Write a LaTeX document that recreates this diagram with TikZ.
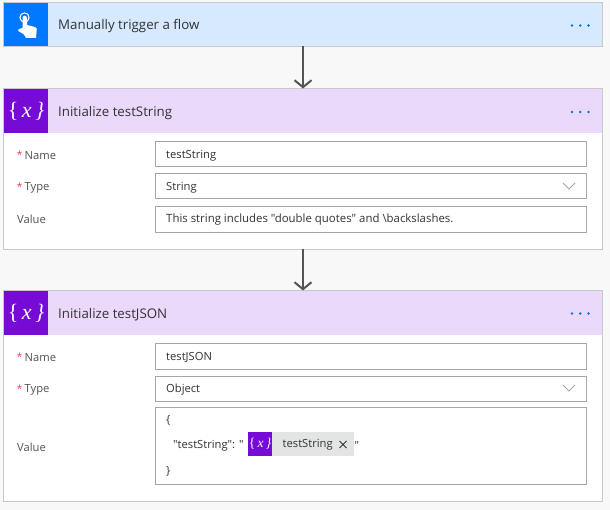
\documentclass[tikz,border=0pt]{standalone}
\usepackage{fontspec}
\setmainfont{Open Sans}[Ligatures=TeXOff]
\newfontfamily\vfont{Liberation Serif}
\usetikzlibrary{arrows.meta}
\definecolor{pagebg}{HTML}{F8F8F8}
\definecolor{cardline}{HTML}{C8C8C8}
\definecolor{fieldline}{HTML}{A6A6A6}
\definecolor{triggerbg}{HTML}{D6E9FE}
\definecolor{triggericon}{HTML}{0078FF}
\definecolor{varbg}{HTML}{EAD9FB}
\definecolor{varicon}{HTML}{770BD6}
\definecolor{txt}{HTML}{333333}
\definecolor{star}{HTML}{E0404A}
\definecolor{dotc}{HTML}{0078D7}
\definecolor{chipbg}{HTML}{E3E5E5}
\tikzset{
  x=1pt,y=-1pt,
  card/.style={draw=cardline,line width=1pt,fill=white,minimum width=599pt,anchor=north west,inner sep=0pt,outer sep=0pt},
  headtext/.style={anchor=west,text=txt,font=\fontsize{13.3}{15}\selectfont,inner sep=0pt,yshift=-1.5pt},
  label/.style={anchor=west,text=txt!85,font=\fontsize{11.2}{13}\selectfont,inner sep=0pt,yshift=-0.5pt},
  field/.style={draw=fieldline,line width=1pt,fill=white,anchor=north west,minimum width=431pt,inner sep=0pt,outer sep=0pt},
  value/.style={anchor=west,text=txt,font=\fontsize{11.2}{13}\selectfont,inner sep=0pt,yshift=-0.5pt},
  flow/.style={draw=black!67,line width=2pt,-{Straight Barb[length=7pt,width=17pt,line width=2pt]}},
  vicon/.style={text=white,inner sep=0pt,anchor=center},
  starmark/.style={anchor=east,inner sep=0pt,text=star,font=\fontsize{10}{12}\selectfont},
}
\newcommand{\threedots}[1]{\foreach \dx in {572,580.3,588.5}{\fill[dotc] (\dx,#1) circle (1.4pt);}}
\begin{document}
\begin{tikzpicture}
\useasboundingbox (0,0) rectangle (610,510);
\fill[pagebg] (0,0) rectangle (610,510);
% cards
\node[card,minimum height=44pt] (c1) at (3.5,2.5) {};
\node[card,minimum height=161pt] (c2) at (3.5,88.5) {};
\node[card,minimum height=211pt] (c3) at (3.5,290.5) {};
% headers
\fill[triggerbg] (4,3) rectangle (602,46.5);
\fill[triggericon] (4,3) rectangle (48,46.5);
\fill[varbg] (4,89) rectangle (602,133);
\fill[varicon] (4,89) rectangle (48,133);
\fill[varbg] (4,291) rectangle (602,335);
\fill[varicon] (4,291) rectangle (48,335);
\draw[cardline,line width=1pt] (3.5,2.5) rectangle (602.5,46.5);
\draw[cardline,line width=1pt] (3.5,88.5) rectangle (602.5,249.5);
\draw[cardline,line width=1pt] (3.5,290.5) rectangle (602.5,501.5);
% hand icon
\draw[white,line width=1pt] (24.5,17.5) circle (4.6pt);
\fill[white] (22.5,18) -- (22.5,28) -- (19,29) .. controls (17.5,29.5) and (17.5,31) .. (19,31.5)
  -- (24,34.5) -- (26,38) -- (36,38) -- (36.8,29) .. controls (36.8,27.5) and (35,27) .. (33,26.5)
  -- (27,25) -- (27,18) .. controls (27,15) and (22.5,15) .. (22.5,18) -- cycle;
% var icons
\node[vicon,font=\vfont\fontsize{22}{22}\selectfont] (i2) at (26,111) {\{\,\itshape x\,\}};
\node[vicon,font=\vfont\fontsize{22}{22}\selectfont] (i3) at (26,313) {\{\,\itshape x\,\}};
% titles
\node[headtext] (t1) at (58,25) {Manually trigger a flow};
\node[headtext] (t2) at (58,111.5) {Initialize testString};
\node[headtext] (t3) at (58,313) {Initialize testJSON};
\threedots{25.5}
\threedots{112}
\threedots{313.5}
% form 1
\node[label] (n1) at (24.5,155) {Name};
\node[label] (y1) at (24.5,187) {Type};
\node[label] (v1) at (17,219) {Value};
\node[starmark] (s1) at (22.5,154.5) {*};
\node[starmark] (s2) at (22.5,186.5) {*};
\node[field,minimum height=25pt] (f1) at (155.5,141.5) {};
\node[field,minimum height=25pt] (f2) at (155.5,173.5) {};
\node[field,minimum height=26pt] (f3) at (155.5,206.5) {};
\node[value] (w1) at (166,155) {testString};
\node[value] (w2) at (166,187) {String};
\node[value,font=\fontsize{11.4}{13}\selectfont] (w3) at (166,219.5) {This string includes "double quotes" and \textbackslash backslashes.};
\draw[fieldline,line width=1pt] (563,183) -- (569,189) -- (575,183);
% form 2
\node[label] (n2) at (24.5,357) {Name};
\node[label] (y2) at (24.5,389) {Type};
\node[label] (v2) at (17,447) {Value};
\node[starmark] (s3) at (22.5,356.5) {*};
\node[starmark] (s4) at (22.5,388.5) {*};
\node[field,minimum height=26pt] (f4) at (155.5,343.5) {};
\node[field,minimum height=25pt] (f5) at (155.5,376.5) {};
\node[field,minimum height=77pt] (f6) at (155.5,407.5) {};
\node[value] (w4) at (166,357) {testJSON};
\node[value] (w5) at (166,389.5) {Object};
\draw[fieldline,line width=1pt] (563,385) -- (569,391) -- (575,385);
\node[value] (w6) at (166,420) {\{};
\node[value] (w7) at (173,445) {"testString": "};
\node[value] (w8) at (166,471) {\}};
% chip
\fill[chipbg] (272,432) rectangle (354,456);
\node[fill=varicon,minimum width=24pt,minimum height=24pt,inner sep=0pt,outer sep=0pt,anchor=north west,text=white,font=\vfont\fontsize{13.5}{14}\selectfont] (ci) at (248,432) {\{\,\itshape x\,\}};
\node[value] (cs) at (282.5,444.5) {testString};
\draw[black!80,line width=.8pt] (339.5,441) -- (346.5,448) (339.5,448) -- (346.5,441);
\node[value] (w9) at (354.5,445) {"};
% connectors
\draw[flow] (c1.south) -- (c2.north);
\draw[flow] (c2.south) -- (c3.north);
\end{tikzpicture}
\end{document}
